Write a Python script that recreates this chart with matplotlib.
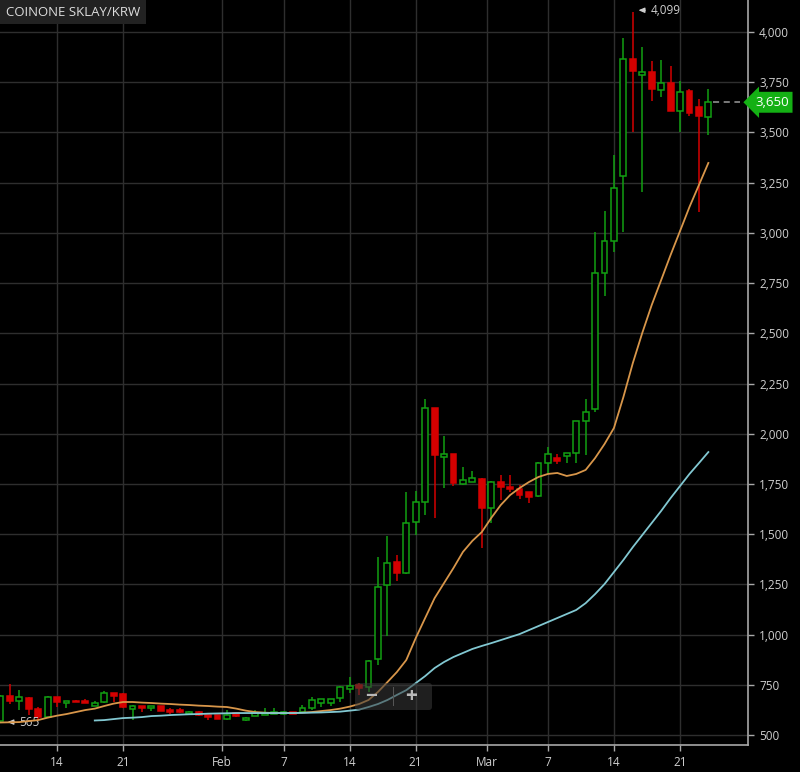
import matplotlib
matplotlib.use("Agg")
import matplotlib.pyplot as plt
from matplotlib.patches import FancyBboxPatch, Rectangle
import numpy as np
import datetime as dt

# ---------------- data ----------------
start_date = dt.date(2021, 1, 8)
opens = [568, 695, 668, 686, 628, 592, 691, 658, 672, 668, 647, 663, 708, 703, 630, 645, 634, 645, 625, 625,
         605, 617, 600, 600, 578, 610, 575, 597, 600, 605, 605, 615, 617, 633, 662, 662, 683, 728, 749, 742,
         877, 1247, 1360, 1305, 1562, 1662, 2127, 1883, 1898, 1748, 1761, 1775, 1629, 1761, 1733, 1725, 1709, 1690, 1856, 1881,
         1889, 1903, 2065, 2122, 2802, 2961, 3285, 3864, 3787, 3802, 3711, 3748, 3607, 3708, 3625, 3575]
highs = [700, 754, 724, 690, 640, 695, 692, 672, 673, 678, 672, 720, 710, 710, 648, 645, 646, 646, 633, 633,
         620, 620, 602, 600, 625, 612, 590, 625, 633, 633, 620, 617, 650, 688, 680, 680, 745, 787, 758, 875,
         1388, 1491, 1397, 1712, 1715, 2172, 2127, 1989, 1898, 1836, 1815, 1780, 1763, 1795, 1795, 1745, 1709, 1860, 1933, 1899,
         1906, 2065, 2172, 3006, 3109, 3388, 3969, 4099, 3927, 3856, 3861, 3832, 3758, 3715, 3665, 3715]
lows = [565, 655, 625, 600, 575, 588, 642, 637, 664, 658, 645, 660, 667, 635, 575, 616, 620, 620, 604, 610,
        603, 595, 575, 578, 575, 590, 572, 595, 598, 603, 600, 605, 612, 625, 642, 645, 667, 708, 700, 717,
        849, 993, 1269, 1300, 1496, 1596, 1579, 1729, 1740, 1745, 1758, 1430, 1554, 1670, 1712, 1674, 1654, 1685, 1803, 1850,
        1856, 1856, 1894, 2110, 2686, 2906, 3006, 3504, 3205, 3657, 3678, 3607, 3504, 3580, 3105, 3487]
closes = [696, 670, 690, 628, 592, 691, 663, 671, 666, 660, 659, 708, 696, 641, 645, 637, 645, 622, 617, 617,
          617, 600, 590, 580, 600, 593, 587, 608, 610, 615, 617, 607, 633, 675, 678, 678, 742, 745, 733, 870,
          1239, 1358, 1308, 1557, 1662, 2127, 1894, 1900, 1753, 1770, 1778, 1629, 1761, 1737, 1723, 1695, 1687, 1856, 1898, 1866,
          1906, 2065, 2107, 2799, 2960, 3222, 3864, 3806, 3802, 3718, 3748, 3607, 3701, 3595, 3582, 3650]

ma_short = [563, 564, 565, 570, 575, 587, 597, 605, 615, 625, 632, 645, 657, 665, 665, 662, 660, 657, 655, 652,
            650, 647, 645, 642, 640, 632, 622, 615, 612, 610, 610, 610, 612, 615, 620, 625, 632, 642, 655, 675,
            715, 764, 814, 874, 983, 1083, 1182, 1257, 1332, 1412, 1467, 1511, 1581, 1645, 1695, 1730, 1760, 1785, 1800, 1805,
            1790, 1800, 1820, 1879, 1949, 2029, 2183, 2352, 2502, 2641, 2765, 2890, 3009, 3129, 3238, 3348]
ma_long_start = 10
ma_long = [573, 575, 580, 585, 587, 590, 595, 597, 600, 602, 604, 605, 607, 608, 609, 610, 610, 610, 610, 610,
           610, 610, 611, 612, 613, 615, 617, 622, 627, 640, 655, 675, 700, 724, 759, 794, 834, 864, 889, 909,
           929, 944, 958, 973, 988, 1003, 1023, 1043, 1063, 1083, 1103, 1123, 1157, 1202, 1252, 1312, 1372, 1436, 1496, 1556,
           1616, 1680, 1740, 1800, 1854, 1909]

y_ticks = [500, 750, 1000, 1250, 1500, 1750, 2000, 2250, 2500, 2750, 3000, 3250, 3500, 3750, 4000]
day_ticks = [dt.date(2021, 1, 14), dt.date(2021, 1, 21), dt.date(2021, 2, 7), dt.date(2021, 2, 14),
             dt.date(2021, 2, 21), dt.date(2021, 3, 7), dt.date(2021, 3, 14), dt.date(2021, 3, 21)]
month_ticks = [dt.date(2021, 2, 1), dt.date(2021, 3, 1)]
title = "COINONE SKLAY/KRW"
last_price = 3650

# ---------------- style ----------------
GREEN = "#12a012"
RED = "#d40000"
ORANGE = "#d8964a"
CYAN = "#82c8d2"
GRID = "#2e2e2e"
TXT = "#cfcfcf"
AXC = "#a8a8a8"

plt.rcParams['font.family'] = ['Open Sans', 'DejaVu Sans']

fig = plt.figure(figsize=(8.0, 7.72), dpi=100, facecolor="black")
ax = fig.add_axes([0.0, 27 / 772, 748 / 800, 745 / 772], facecolor="black")

n = len(opens)
xs = np.arange(n)  # day index from start_date


def dx(d):
    return (d - start_date).days


# grid lines
for yv in y_ticks:
    ax.axhline(yv, color=GRID, lw=1.0, zorder=0)
xt = [dx(d) for d in day_ticks] + [dx(d) - 0.5 for d in month_ticks]
for xv in xt:
    ax.axvline(xv, color=GRID, lw=1.0, zorder=0)

# candles
w = 0.62
for i in range(n):
    o, h, l, c = opens[i], highs[i], lows[i], closes[i]
    up = c >= o
    col = GREEN if up else RED
    ax.vlines(xs[i], l, h, color=col, lw=1.1, zorder=2)
    bot = min(o, c)
    ht = max(abs(c - o), 6)
    ax.bar(xs[i], ht, bottom=bot, width=w, facecolor=("black" if up else col),
           edgecolor=col, linewidth=1.1, zorder=3)

# moving averages
ax.plot(xs, ma_short, color=ORANGE, lw=1.3, zorder=4)
ax.plot(np.arange(ma_long_start, ma_long_start + len(ma_long)), ma_long, color=CYAN, lw=1.3, zorder=4)

ax.set_xlim(-0.04, 79.2)
ax.set_ylim(451, 4159)

# ticks
ax.yaxis.tick_right()
ax.set_yticks(y_ticks)
ax.set_yticklabels([f"{v:,}" for v in y_ticks])
ax.set_xticks([dx(d) for d in day_ticks] + [dx(d) - 0.5 for d in month_ticks])
ax.set_xticklabels([str(d.day) for d in day_ticks] + [d.strftime("%b") for d in month_ticks])
ax.tick_params(axis='y', colors=AXC, labelcolor=TXT, labelsize=8.5, length=4, width=1, pad=4)
ax.tick_params(axis='x', colors=AXC, labelcolor=TXT, labelsize=8.5, length=4, width=1, pad=4)
for s in ['top', 'left']:
    ax.spines[s].set_visible(False)
for s in ['right', 'bottom']:
    ax.spines[s].set_color(AXC)
    ax.spines[s].set_linewidth(1.2)

# last price line and label
ax.plot([75.45, 78.3], [last_price, last_price], color="#9a9a9a", lw=1.1, ls=(0, (4, 3)), zorder=4)
ax.annotate(f"{last_price:,}", xy=(1.0, last_price), xycoords=('axes fraction', 'data'),
            xytext=(5, 0), textcoords='offset points', ha='left', va='center',
            color="white", fontsize=9.5,
            bbox=dict(boxstyle="larrow,pad=0.3", fc="#14b014", ec="none"),
            annotation_clip=False, zorder=6)

# high / low annotations
ax.annotate("", xy=(67.3, 4108), xytext=(68.6, 4108),
            arrowprops=dict(arrowstyle="-|>,head_length=0.35,head_width=0.15", color=TXT, lw=0.9))
ax.text(68.85, 4108, "4,099", color=TXT, fontsize=8.5, va='center', ha='left')
ax.annotate("", xy=(0.45, 565), xytext=(1.8, 565),
            arrowprops=dict(arrowstyle="-|>,head_length=0.35,head_width=0.15", color=TXT, lw=0.9))
ax.text(2.0, 565, "565", color=TXT, fontsize=8.5, va='center', ha='left')

# title box
fig.patches.append(Rectangle((0, 772 - 24), 146, 24, transform=None, facecolor="#222222",
                             edgecolor="none", zorder=10))
fig.text(6 / 800, 1 - 12 / 772, title, color="#dddddd", fontsize=9.5, va='center', ha='left', zorder=11)

# zoom buttons overlay
zx0, zy0 = 355, 772 - 710
fig.patches.append(FancyBboxPatch((zx0, zy0), 77, 27, boxstyle="round,pad=0,rounding_size=3",
                                  transform=None, facecolor="#3a3a3a", alpha=0.55,
                                  edgecolor="none", zorder=10))
fig.patches.append(Rectangle((393, zy0 + 4), 1, 19, transform=None, facecolor="#555555",
                             edgecolor="none", zorder=11))
fig.text(371 / 800, (zy0 + 13) / 772, "\u2212", color="#b8b8b8", fontsize=15, fontweight='bold',
         ha='center', va='center', zorder=12)
fig.text(411 / 800, (zy0 + 13) / 772, "+", color="#b8b8b8", fontsize=15, fontweight='bold',
         ha='center', va='center', zorder=12)

fig.savefig("out.png", dpi=100, facecolor="black")
